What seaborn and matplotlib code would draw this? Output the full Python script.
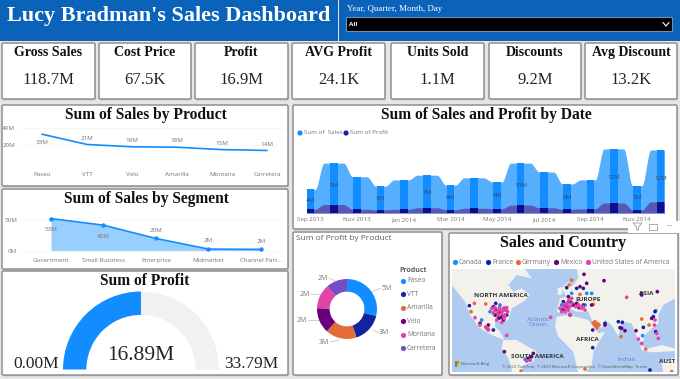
import numpy as np
import pandas as pd
import matplotlib
matplotlib.use('Agg')
import matplotlib.pyplot as plt
from matplotlib.patches import FancyBboxPatch, Rectangle, Polygon
import seaborn as sns

# kpi cards
kpi_titles = ['Gross Sales', 'Cost Price', 'Profit', 'AVG Profit', 'Units Sold', 'Discounts', 'Avg Discount']
kpi_values = ['118.7M', '67.5K', '16.9M', '24.1K', '1.1M', '9.2M', '13.2K']

# sales by product
products = ['Paseo', 'VTT', 'Velo', 'Amarilla', 'Montana', 'Carretera']
product_sales = [33, 21, 18.3, 17.8, 15, 14]
product_labels = ['33M', '21M', '18M', '18M', '15M', '14M']

# sales by segment
segments = ['Government', 'Small Business', 'Enterprise', 'Midmarket', 'Channel Part...']
segment_sales = [53, 42, 20, 2.4, 1.9]
segment_labels = ['53M', '42M', '20M', '2M', '2M']

# sales and profit by date
months = ['Sep 2013', 'Oct 2013', 'Nov 2013', 'Dec 2013', 'Jan 2014', 'Feb 2014', 'Mar 2014', 'Apr 2014',
          'May 2014', 'Jun 2014', 'Jul 2014', 'Aug 2014', 'Sep 2014', 'Oct 2014', 'Nov 2014', 'Dec 2014']
month_sales = [4.5, 9.5, 6.9, 5.1, 6.3, 7.2, 5.3, 6.7, 5.9, 9.5, 7.8, 5.5, 6.3, 12.2, 5.2, 12.0]
month_profit = [0.7, 1.6, 0.7, 0.6, 0.7, 1.0, 0.6, 0.9, 0.8, 1.5, 1.0, 0.7, 0.8, 1.9, 0.6, 2.1]
month_labels = ['4M', '9M', '', '5M', '', '7M', '6M', '', '6M', '10M', '', '6M', '', '12M', '5M', '12M']

# gauge
gauge_value = 16.89
gauge_max = 33.79

# donut
donut_products = ['Paseo', 'VTT', 'Amarilla', 'Velo', 'Montana', 'Carretera']
donut_profit = [4.8, 2.7, 2.8, 2.3, 2.2, 1.9]
donut_labels = ['5M', '3M', '3M', '2M', '2M', '2M']
donut_colors = ['#118DFF', '#12239E', '#E66C37', '#6B007B', '#E044A7', '#744EC2']

# map dots, country by country
countries = ['Canada', 'France', 'Germany', 'Mexico', 'United States of America']
canada_x = [110, 135, 165, 350, 380, 440, 425, 593, 632, 450, 240, 420, 152, 370]
canada_y = [165, 140, 120, 120, 85, 85, 85, 212, 137, 180, 283, 120, 150, 110]
france_x = [73, 152, 160, 185, 145, 365, 395, 355, 385, 415, 520, 532, 525, 443, 595, 625, 590, 255, 260, 615, 480, 630, 168, 172, 362, 378]
france_y = [122, 115, 160, 150, 195, 68, 70, 110, 120, 70, 170, 172, 188, 248, 187, 155, 85, 285, 275, 315, 175, 140, 142, 155, 130, 112]
germany_x = [88, 122, 78, 380, 372, 155, 445, 455, 462, 450, 590, 602, 528, 612, 405, 445, 228, 420, 680, 452, 458]
germany_y = [115, 117, 140, 45, 60, 150, 175, 188, 180, 170, 162, 252, 215, 180, 88, 118, 318, 312, 320, 182, 176]
mexico_x = [130, 145, 160, 175, 150, 105, 178, 370, 360, 395, 415, 405, 425, 417, 477, 375, 440, 590, 637, 480, 530, 540, 573, 620, 632, 178, 265, 250, 443, 152, 166, 182, 352, 366, 384, 402]
mexico_y = [180, 125, 140, 165, 150, 175, 130, 95, 120, 115, 120, 65, 55, 28, 47, 150, 120, 90, 80, 180, 190, 197, 197, 160, 200, 260, 265, 280, 195, 135, 158, 135, 135, 128, 118, 128]
usa_x = [140, 150, 165, 175, 185, 145, 160, 170, 180, 188, 155, 170, 178, 90, 105, 125, 130, 355, 365, 372, 380, 345, 360, 375, 400, 410, 420, 350, 375, 545, 630, 628, 635, 640, 590, 580, 317, 185, 245, 255,
         148, 157, 163, 172, 183, 176, 358, 368, 363, 370, 380, 392, 405, 415, 122, 128]
usa_y = [130, 128, 135, 130, 128, 145, 150, 145, 150, 140, 165, 172, 160, 158, 180, 190, 195, 125, 115, 105, 100, 130, 140, 125, 120, 130, 135, 140, 148, 97, 165, 180, 205, 220, 235, 222, 157, 211, 288, 285,
         138, 140, 128, 138, 135, 155, 118, 120, 130, 135, 115, 125, 125, 125, 186, 191]

BLUE = '#118DFF'
GREY = '#777777'
SERIF = 'Liberation Serif'

sns.set_theme(style='white')
plt.rcParams['font.family'] = ['Open Sans', 'DejaVu Sans']

fig = plt.figure(figsize=(6.8, 3.79), dpi=100, facecolor='#e6e6e6')

# the whole page works in pixels
bg = fig.add_axes([0, 0, 1, 1])
bg.set_xlim(0, 680)
bg.set_ylim(379, 0)
bg.axis('off')


def inset(x0, y0, x1, y1):
    ax = fig.add_axes([x0 / 680, 1 - y1 / 379, (x1 - x0) / 680, (y1 - y0) / 379])
    ax.patch.set_alpha(0)
    return ax


def panel(x0, y0, x1, y1):
    shadow = FancyBboxPatch((x0 + 1, y0 + 1.5), x1 - x0, y1 - y0, boxstyle='round,pad=0,rounding_size=1.5',
                            fc='#b5b5b5', ec='none', alpha=0.6)
    bg.add_patch(shadow)
    box = FancyBboxPatch((x0, y0), x1 - x0, y1 - y0, boxstyle='round,pad=0,rounding_size=1.5',
                         fc='white', ec='#8f8f8f', lw=1.1)
    bg.add_patch(box)


def serif_title(x, y, s, size=11.2):
    bg.text(x, y, s, family=SERIF, weight='bold', size=size, ha='center', va='center', color='#111111')


def small_axes(ax):
    sns.despine(ax=ax, left=True, bottom=True)
    ax.set_xlabel('')
    ax.set_ylabel('')
    ax.tick_params(length=0, labelsize=4.5, labelcolor=GREY)


# header
bg.add_patch(Rectangle((0, 0), 338, 41, fc='#0A63B8', ec='none'))
bg.add_patch(Rectangle((339, 0), 341, 41, fc='#0A63B8', ec='none'))
bg.text(168.5, 16.5, "Lucy Bradman's Sales Dashboard", family=SERIF, weight='bold', size=16,
        color='white', ha='center', va='center')
bg.text(347, 9, 'Year, Quarter, Month, Day', family=SERIF, size=6.4, color='white', va='center')
bg.add_patch(Rectangle((346, 17), 326, 14, fc='black', ec='#6f8fb5', lw=0.8))
bg.text(349, 24.5, 'All', size=4.6, weight='bold', color='white', va='center')
bg.plot([663, 666, 669], [22.5, 26, 22.5], color='white', lw=0.8)

# kpi cards
card_left = [2, 99, 195, 292, 391, 489, 585]
card_right = [95, 191, 288, 385, 484, 581, 677]
for i in range(7):
    panel(card_left[i], 43, card_right[i], 99)
    mid = (card_left[i] + card_right[i]) / 2
    serif_title(mid, 52.5, kpi_titles[i], size=10)
    bg.text(mid, 80, kpi_values[i], family=SERIF, size=12, ha='center', va='center', color='#252423')

# panels
panel(2, 105, 288, 186)
panel(2, 189, 288, 269)
panel(2, 271, 288, 375)
panel(293, 105, 677, 229)
panel(293, 232, 442, 375)
panel(449, 233, 678, 375)

# sales by product
serif_title(146, 115, 'Sum of Sales by Product')
ax = inset(20, 125, 285, 172)
sns.lineplot(x=products, y=product_sales, sort=False, color=BLUE, lw=1.2, ax=ax)
ax.set_xlim(-0.489, 5.4)
ax.set_ylim(-11.1, 43.7)
ax.set_yticks([20, 40], ['20M', '40M'])
ax.grid(axis='y', color='#e4e4e4', ls=':', lw=0.5)
small_axes(ax)
ax.tick_params(axis='x', pad=0)
for i in range(6):
    off = -6 if i == 0 else 4.5
    ax.annotate(product_labels[i], (i, product_sales[i]), xytext=(0, off), textcoords='offset points',
                ha='center', va='center', size=4.5, color=GREY)

# sales by segment
serif_title(146, 199, 'Sum of Sales by Segment')
ax = inset(22, 212, 285, 255)
ax.fill_between(range(5), segment_sales, color='#99CFFF', lw=0)
sns.lineplot(x=segments, y=segment_sales, sort=False, color=BLUE, lw=1.2, marker='o', ms=3.2, mew=0, ax=ax)
ax.set_xlim(-0.552, 4.457)
ax.set_ylim(-7.4, 63.9)
ax.set_yticks([0, 50], ['0M', '50M'])
ax.grid(axis='y', color='#e4e4e4', ls=':', lw=0.5)
small_axes(ax)
ax.tick_params(axis='x', pad=2)
for i in range(5):
    off = -8 if i < 2 else 6
    ax.annotate(segment_labels[i], (i, segment_sales[i]), xytext=(0, off), textcoords='offset points',
                ha='center', va='center', size=4.5, color=GREY)

# gauge
serif_title(145, 281, 'Sum of Profit')
ax = inset(63, 291.5, 219, 447.5)
ax.pie([gauge_value, gauge_max - gauge_value, gauge_max], colors=[BLUE, '#F1F1F1', 'none'], startangle=180,
       counterclock=False, radius=1, wedgeprops={'width': 0.3, 'lw': 0})
ax.set_xlim(-1, 1)
ax.set_ylim(-1, 1)
bg.text(141, 355, f'{gauge_value:.2f}M', family=SERIF, size=15.5, ha='center', va='center', color='#252423')
bg.text(36, 364, '0.00M', family=SERIF, size=12.5, ha='center', va='center', color='#252423')
bg.text(251, 364, f'{gauge_max:.2f}M', family=SERIF, size=12.5, ha='center', va='center', color='#252423')

# sales and profit by date
serif_title(486, 115, 'Sum of Sales and Profit by Date')
bg.scatter([300, 346], [133, 133], s=14, c=[BLUE, '#12239E'], lw=0)
bg.text(304, 133, 'Sum of  Sales', size=4.5, color=GREY, va='center')
bg.text(350.5, 133, 'Sum of Profit', size=4.5, color=GREY, va='center')
ax = inset(306.5, 140, 664.5, 213)
pos = np.arange(len(months))
fine = np.linspace(-0.17, 15.17, 800)


def plateau(vals):
    # flat around each bar, the higher month keeps its level longer
    vals = np.asarray(vals)
    i = np.clip(np.floor(fine).astype(int), 0, len(vals) - 2)
    start = np.where(vals[i + 1] < vals[i], 0.42, 0.2)
    t = np.clip((fine - i - start) / 0.38, 0, 1)
    t = t * t * (3 - 2 * t)
    return vals[i] + (vals[i + 1] - vals[i]) * t


sns.barplot(x=months, y=month_sales, color=BLUE, saturation=1, width=0.33, lw=0, ax=ax, zorder=2)
ax.fill_between(fine, plateau(month_sales), color='#56AEFF', lw=0, zorder=1)
ax.fill_between(fine, plateau(month_profit), color='#5A57B5', lw=0, zorder=3)
sns.barplot(x=months, y=month_profit, color='#0B0F8C', saturation=1, width=0.33, lw=0, ax=ax, zorder=4)
ax.set_xlim(-0.17, 15.17)
ax.set_ylim(0, 13.9)
ax.set_yticks([])
ax.set_xticks(pos[::2], months[::2])
small_axes(ax)
ax.tick_params(axis='x', pad=3)
for i in range(16):
    ax.text(i, month_sales[i] * 0.55, month_labels[i], size=4.5, color='#3d4a66', ha='center', va='center', zorder=6)

# hover icons over the corner of the date chart
bg_top = inset(628, 221, 680, 233)
bg_top.set_xlim(628, 680)
bg_top.set_ylim(233, 221)
bg_top.axis('off')
bg_top.add_patch(Rectangle((628, 221), 52, 12, fc='white', ec='none'))
bg_top.add_patch(Polygon([(633, 223), (642, 223), (638.5, 227), (638.5, 230), (636.5, 230), (636.5, 227)],
                         fc='none', ec='#8a8a8a', lw=0.5))
bg_top.add_patch(Rectangle((649, 224), 8, 6, fc='none', ec='#8a8a8a', lw=0.5))
bg_top.text(670, 225, '...', size=6, color='#666666', ha='center', va='center')

# donut
bg.text(296, 238.5, 'Sum of Profit by Product', size=6, color='#605E5C', va='center')
ax = inset(317, 279, 377, 339)
ax.pie(donut_profit, colors=donut_colors, startangle=90, counterclock=False, radius=1,
       wedgeprops={'width': 0.42, 'lw': 0})
ax.set_xlim(-1, 1)
ax.set_ylim(-1, 1)
label_x = [387, 384, 324, 302, 305, 323]
label_y = [288, 333, 342, 321, 294, 278]
line_x0 = [372, 373, 339, 322, 324, 335]
line_y0 = [292, 330, 340, 320, 295, 281]
line_x1 = [381, 379, 330, 308, 311, 329]
line_y1 = [288, 333, 342, 320, 294, 278]
for i in range(6):
    bg.plot([line_x0[i], line_x1[i]], [line_y0[i], line_y1[i]], color='#bbbbbb', lw=0.5)
    bg.text(label_x[i], label_y[i], donut_labels[i], size=5, color=GREY, ha='center', va='center')
bg.text(399.5, 270, 'Product', size=5, weight='bold', color='#605E5C', va='center')
for i in range(6):
    y = 281 + i * 13.4
    bg.scatter([403], [y], s=14, c=donut_colors[i], lw=0)
    bg.text(407, y, donut_products[i], size=4.8, color=GREY, va='center')

# map panel
serif_title(563, 243, 'Sales and Country', size=11.5)
legend_dot = [455, 488, 518, 556, 588]
map_colors = [BLUE, '#12239E', '#E66C37', '#6B007B', '#E044A7']
for i in range(5):
    bg.scatter([legend_dot[i]], [262], s=14, c=map_colors[i], lw=0)
    bg.text(legend_dot[i] + 4, 262, countries[i], size=4.9, color=GREY, va='center')

ax = inset(451.7, 269, 675, 371.7)
ax.set_facecolor('#AFCBF0')
ax.patch.set_alpha(1)
land = [
    [(20, 12), (240, 12), (260, 40), (215, 30), (190, 60), (205, 80), (230, 70), (255, 90), (235, 110), (200, 130),
     (190, 165), (175, 170), (150, 165), (150, 185), (165, 200), (178, 225), (140, 210), (105, 190), (75, 150),
     (60, 110), (20, 60)],
    [(175, 225), (215, 225), (275, 260), (265, 290), (235, 300), (225, 330), (205, 330), (190, 280), (170, 250)],
    [(335, 140), (345, 100), (365, 95), (350, 70), (370, 50), (380, 65), (400, 40), (395, 12), (690, 12), (690, 100),
     (655, 120), (640, 150), (640, 175), (620, 190), (600, 210), (590, 240), (575, 215), (560, 175), (530, 170),
     (520, 215), (500, 180), (480, 165), (470, 190), (440, 165), (430, 140), (395, 140), (370, 130), (350, 145)],
    [(335, 155), (370, 150), (430, 165), (460, 205), (480, 200), (445, 260), (440, 300), (420, 325), (400, 325),
     (385, 260), (340, 215), (330, 185)],
    [(338, 70), (350, 65), (352, 88), (338, 90)],
    [(585, 240), (610, 250), (650, 240), (690, 250), (690, 258), (620, 262), (590, 255)],
    [(650, 290), (690, 278), (690, 330), (655, 330)],
]
for shape in land:
    ax.add_patch(Polygon(shape, fc='#F3F1EC', ec='none'))

dots = pd.concat([
    pd.DataFrame({'x': canada_x, 'y': canada_y, 'country': 'Canada'}),
    pd.DataFrame({'x': france_x, 'y': france_y, 'country': 'France'}),
    pd.DataFrame({'x': germany_x, 'y': germany_y, 'country': 'Germany'}),
    pd.DataFrame({'x': mexico_x, 'y': mexico_y, 'country': 'Mexico'}),
    pd.DataFrame({'x': usa_x, 'y': usa_y, 'country': 'United States of America'}),
])
sns.scatterplot(data=dots, x='x', y='y', hue='country', hue_order=countries, palette=map_colors, s=7, lw=0,
                legend=False, ax=ax)
ax.set_xlim(20, 690)
ax.set_ylim(320, 12)
ax.set_xticks([])
ax.set_yticks([])
ax.set_xlabel('')
ax.set_ylabel('')
sns.despine(ax=ax, left=True, bottom=True)

for name, x, y in [('NORTH AMERICA', 167, 92), ('EUROPE', 430, 102), ('ASIA', 605, 86), ('AFRICA', 428, 223),
                   ('SOUTH AMERICA', 278, 274), ('AUST', 668, 288)]:
    ax.text(x, y, name, size=4.6, weight='bold', color='#333333', ha='center', va='center', clip_on=True)
ax.text(280, 171, 'Atlantic\nOcean', size=4.6, color='#5f7fc4', ha='center', va='center', linespacing=1.0)
ax.text(545, 284, 'Indian', size=4.6, color='#5f7fc4', ha='center', va='center')
ax.text(172, 304, '© 2023 TomTom, © 2023 Microsoft Corporation, © OpenStreetMap  Terms', size=3, color='#555555', va='center')
ax.text(48, 298, 'Microsoft Bing', size=3, color='#555555', va='center')
for cx, cy, col in [(33, 293, '#F25022'), (39, 293, '#7FBA00'), (33, 302, '#00A4EF'), (39, 302, '#FFB900')]:
    ax.add_patch(Rectangle((cx - 3, cy - 4), 6, 8, fc=col, ec='none'))

fig.savefig('out.png', dpi=100, facecolor=fig.get_facecolor())
